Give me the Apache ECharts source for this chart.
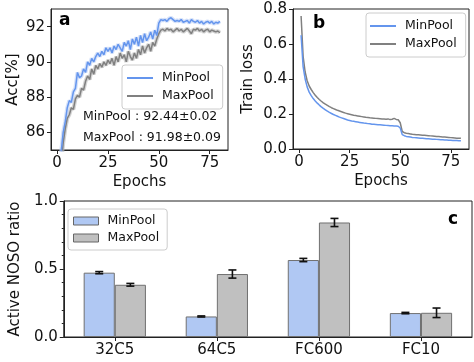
<!DOCTYPE html>
<html>
<head>
<meta charset="utf-8">
<script src="https://cdn.jsdelivr.net/npm/echarts@6/dist/echarts.min.js"></script>
<style>
html,body{margin:0;padding:0;background:#fff;}
#c{width:474px;height:362px;}
</style>
</head>
<body>
<div id="c"></div>
<script>
// ---------- data ----------
const epochs = [1,2,3,4,5,6,7,8,9,10,11,12,13,14,15,16,17,18,19,20,21,22,23,24,25,26,27,28,29,30,31,32,33,34,35,36,37,38,39,40,41,42,43,44,45,46,47,48,49,50,51,52,53,54,55,56,57,58,59,60,61,62,63,64,65,66,67,68,69,70,71,72,73,74,75,76,77,78,79,80];

const accMinPool = [83.0,84.9,86.0,86.6,87.4,87.8,87.7,88.3,88.5,89.4,89.1,89.2,89.6,89.4,90.0,89.8,90.2,90.0,90.3,90.5,
  90.3,90.6,90.4,90.8,90.6,90.8,90.5,90.9,90.7,91.0,90.8,90.6,91.1,90.9,91.2,90.7,91.3,91.0,91.4,90.9,
  91.5,91.1,91.6,91.2,91.4,91.7,91.3,91.8,91.5,92.2,92.4,92.35,92.4,92.3,92.45,92.5,92.4,92.3,92.35,92.3,
  92.4,92.25,92.3,92.35,92.2,92.4,92.3,92.25,92.35,92.2,92.3,92.15,92.25,92.3,92.2,92.3,92.15,92.25,92.2,92.3];

const accMaxPool = [82.5,84.2,85.4,86.2,86.8,87.0,87.4,87.3,87.9,88.1,88.0,88.5,88.4,88.9,89.2,89.0,89.6,89.3,89.8,89.6,
  89.9,89.7,90.0,89.8,90.1,89.9,90.2,89.8,90.3,90.0,90.5,90.2,90.4,90.0,90.6,90.3,90.1,90.5,90.2,90.7,
  90.4,90.9,90.5,90.8,91.0,90.6,91.1,90.9,91.3,91.6,91.8,91.85,91.75,91.9,91.8,91.85,91.7,91.8,91.9,91.75,
  91.85,91.7,91.8,91.9,91.75,91.6,91.85,91.8,91.9,91.75,91.85,91.7,91.8,91.85,91.7,91.8,91.75,91.7,91.75,91.65];

const lossMinPool = [0.65,0.47,0.40,0.355,0.325,0.305,0.288,0.274,0.262,0.251,0.241,0.232,0.224,0.216,0.209,0.203,0.197,0.192,0.187,0.182,
  0.178,0.174,0.170,0.166,0.163,0.160,0.158,0.156,0.154,0.152,0.150,0.148,0.147,0.145,0.144,0.142,0.141,0.140,0.139,0.138,
  0.137,0.136,0.135,0.134,0.133,0.133,0.132,0.131,0.130,0.120,0.082,0.076,0.072,0.070,0.068,0.066,0.065,0.064,0.063,0.062,
  0.061,0.060,0.059,0.058,0.057,0.056,0.056,0.055,0.054,0.053,0.053,0.052,0.051,0.050,0.050,0.049,0.048,0.048,0.047,0.047];

const lossMaxPool = [0.76,0.53,0.44,0.39,0.36,0.34,0.322,0.307,0.294,0.283,0.273,0.264,0.256,0.249,0.242,0.236,0.231,0.226,0.221,0.217,
  0.213,0.209,0.205,0.202,0.199,0.196,0.193,0.191,0.189,0.187,0.185,0.183,0.181,0.180,0.178,0.177,0.176,0.175,0.174,0.173,
  0.172,0.171,0.170,0.172,0.168,0.170,0.175,0.169,0.167,0.150,0.100,0.093,0.090,0.088,0.086,0.084,0.083,0.082,0.081,0.080,
  0.079,0.078,0.077,0.076,0.075,0.074,0.073,0.072,0.071,0.070,0.069,0.068,0.067,0.066,0.065,0.064,0.063,0.062,0.062,0.061];

const layers = ['32C5','64C5','FC600','FC10'];
const nosoMinPool = [0.473,0.151,0.566,0.176];
const nosoMinPoolErr = [0.008,0.004,0.012,0.005];
const nosoMaxPool = [0.384,0.463,0.842,0.178];
const nosoMaxPoolErr = [0.010,0.030,0.030,0.035];

const epochTicks = [0,25,50,75];
const accTicks = [86,88,90,92];

// ---------- chart ----------
const FONT = 'DejaVu Sans';
const BLUE = '#6495ED';
const GRAY = '#808080';
const BAR_BLUE = '#b0c8f3';
const BAR_GRAY = '#c0c0c0';

const pairs = (xs, ys) => xs.map((x, i) => [x, ys[i]]);

const chart = echarts.init(document.getElementById('c'), null, {renderer: 'canvas'});

const tickLabel = {color: '#111', fontFamily: FONT, fontSize: 15};
const axisLine = {show: true, onZero: false, lineStyle: {color: '#222', width: 1}};
const axisTick = {show: true, inside: false, length: 4, lineStyle: {color: '#222', width: 1}};
const nameStyle = {color: '#111', fontFamily: FONT, fontSize: 15};

const BAR_W = 0.305;

function errorRenderer(sign) {
  return function (params, api) {
    const cat = api.value(0), v = api.value(1), e = api.value(2);
    const band = api.size([1, 0])[0];
    const off = sign * band * BAR_W / 2;
    const top = api.coord([cat, v + e]);
    const bot = api.coord([cat, v - e]);
    const x = top[0] + off;
    const cap = 4;
    const st = {stroke: '#111', lineWidth: 1.6};
    return {
      type: 'group',
      children: [
        {type: 'line', shape: {x1: x, y1: top[1], x2: x, y2: bot[1]}, style: st},
        {type: 'line', shape: {x1: x - cap, y1: top[1], x2: x + cap, y2: top[1]}, style: st},
        {type: 'line', shape: {x1: x - cap, y1: bot[1], x2: x + cap, y2: bot[1]}, style: st}
      ]
    };
  };
}

const legendBase = {
  orient: 'vertical',
  backgroundColor: 'rgba(255,255,255,0.85)',
  borderColor: '#cccccc',
  borderWidth: 1,
  borderRadius: 3,
  itemGap: 4,
  textStyle: {color: '#111', fontFamily: FONT, fontSize: 12.5, lineHeight: 14, padding: [0, 0, 0, 4]},
  selectedMode: false
};

const option = {
  animation: false,
  backgroundColor: '#fff',
  grid: [
    {left: 51, top: 9, width: 177, height: 141, show: true, borderColor: '#222', borderWidth: 1, containLabel: false},
    {left: 293, top: 9, width: 176, height: 140, show: true, borderColor: '#222', borderWidth: 1, containLabel: false},
    {left: 58, top: 201, width: 414, height: 136, show: true, borderColor: '#222', borderWidth: 1, containLabel: false}
  ],
  xAxis: [
    {gridIndex: 0, type: 'value', min: -3, max: 84, name: 'Epochs', nameLocation: 'middle', nameGap: 25, nameTextStyle: nameStyle,
     axisLine: axisLine, axisTick: Object.assign({customValues: epochTicks}, axisTick),
     axisLabel: Object.assign({customValues: epochTicks, margin: 6}, tickLabel), splitLine: {show: false}},
    {gridIndex: 1, type: 'value', min: -3, max: 84, name: 'Epochs', nameLocation: 'middle', nameGap: 25, nameTextStyle: nameStyle,
     axisLine: axisLine, axisTick: Object.assign({customValues: epochTicks}, axisTick),
     axisLabel: Object.assign({customValues: epochTicks, margin: 6}, tickLabel), splitLine: {show: false}},
    {gridIndex: 2, type: 'category', data: layers, boundaryGap: true,
     axisLine: axisLine, axisTick: Object.assign({alignWithLabel: true}, axisTick),
     axisLabel: Object.assign({margin: 6}, tickLabel), splitLine: {show: false}}
  ],
  yAxis: [
    {gridIndex: 0, type: 'value', min: 85, max: 93, name: 'Acc[%]', nameLocation: 'middle', nameGap: 30, nameTextStyle: nameStyle,
     axisLine: axisLine, axisTick: Object.assign({customValues: accTicks}, axisTick),
     axisLabel: Object.assign({customValues: accTicks, margin: 6}, tickLabel), splitLine: {show: false}},
    {gridIndex: 1, type: 'value', min: 0, max: 0.8, interval: 0.2, name: 'Train loss', nameLocation: 'middle', nameGap: 37, nameTextStyle: nameStyle,
     axisLine: axisLine, axisTick: axisTick,
     axisLabel: Object.assign({margin: 6, formatter: v => v.toFixed(1)}, tickLabel), splitLine: {show: false}},
    {gridIndex: 2, type: 'value', min: 0, max: 1, interval: 0.5, name: 'Active NOSO ratio', nameLocation: 'middle', nameGap: 37, nameTextStyle: nameStyle,
     axisLine: axisLine, axisTick: axisTick,
     minorTick: {show: true, splitNumber: 5, length: 2, lineStyle: {color: '#222', width: 1}},
     axisLabel: Object.assign({margin: 6, formatter: v => v.toFixed(1)}, tickLabel), splitLine: {show: false}}
  ],
  legend: [
    Object.assign({}, legendBase, {left: 122, top: 65, padding: [6, 9, 6, 5], itemWidth: 26, itemHeight: 2,
      data: [{name: 'MinPool', icon: 'rect', itemStyle: {color: BLUE, borderWidth: 0}},
             {name: 'MaxPool', icon: 'rect', itemStyle: {color: GRAY, borderWidth: 0}}]}),
    Object.assign({}, legendBase, {left: 366, top: 13, padding: [6, 9, 6, 4], itemWidth: 26, itemHeight: 2,
      data: [{name: 'MinPool', icon: 'rect', itemStyle: {color: BLUE, borderWidth: 0}},
             {name: 'MaxPool', icon: 'rect', itemStyle: {color: GRAY, borderWidth: 0}}]}),
    Object.assign({}, legendBase, {left: 68, top: 209, padding: [5, 8, 5, 5], itemWidth: 25, itemHeight: 8, itemGap: 3,
      data: [{name: 'MinPool', icon: 'rect', itemStyle: {color: BAR_BLUE, borderColor: '#666', borderWidth: 1}},
             {name: 'MaxPool', icon: 'rect', itemStyle: {color: BAR_GRAY, borderColor: '#666', borderWidth: 1}}]})
  ],
  graphic: [
    {type: 'text', left: 59, top: 12, style: {text: 'a', fontFamily: FONT, fontWeight: 'bold', fontSize: 17, fill: '#000'}},
    {type: 'text', left: 313, top: 15, style: {text: 'b', fontFamily: FONT, fontWeight: 'bold', fontSize: 17, fill: '#000'}},
    {type: 'text', left: 448, top: 211, style: {text: 'c', fontFamily: FONT, fontWeight: 'bold', fontSize: 17, fill: '#000'}},
    {type: 'text', left: 83, top: 110, style: {text: 'MinPool : 92.44\u00b10.02', fontFamily: FONT, fontSize: 12.5, fill: '#111'}},
    {type: 'text', left: 83, top: 131, style: {text: 'MaxPool : 91.98\u00b10.09', fontFamily: FONT, fontSize: 12.5, fill: '#111'}}
  ],
  series: [
    // panel a: soft band under the lines
    {name: 'MaxPool band', type: 'line', xAxisIndex: 0, yAxisIndex: 0, data: pairs(epochs, accMaxPool), showSymbol: false, symbol: 'none',
     lineStyle: {color: '#b8b8b8', width: 4, opacity: 0.6}, z: 1, silent: true},
    {name: 'MinPool band', type: 'line', xAxisIndex: 0, yAxisIndex: 0, data: pairs(epochs, accMinPool), showSymbol: false, symbol: 'none',
     lineStyle: {color: '#b9cdf5', width: 4, opacity: 0.6}, z: 1, silent: true},
    {name: 'MaxPool', type: 'line', xAxisIndex: 0, yAxisIndex: 0, data: pairs(epochs, accMaxPool), showSymbol: false, symbol: 'none',
     lineStyle: {color: GRAY, width: 1.5}, itemStyle: {color: GRAY}, z: 2},
    {name: 'MinPool', type: 'line', xAxisIndex: 0, yAxisIndex: 0, data: pairs(epochs, accMinPool), showSymbol: false, symbol: 'none',
     lineStyle: {color: BLUE, width: 1.5}, itemStyle: {color: BLUE}, z: 3},
    // panel b
    {name: 'MaxPool', type: 'line', xAxisIndex: 1, yAxisIndex: 1, data: pairs(epochs, lossMaxPool), showSymbol: false, symbol: 'none',
     lineStyle: {color: GRAY, width: 1.5}, itemStyle: {color: GRAY}, z: 2},
    {name: 'MinPool', type: 'line', xAxisIndex: 1, yAxisIndex: 1, data: pairs(epochs, lossMinPool), showSymbol: false, symbol: 'none',
     lineStyle: {color: BLUE, width: 1.5}, itemStyle: {color: BLUE}, z: 3},
    // panel c
    {name: 'MinPool', type: 'bar', xAxisIndex: 2, yAxisIndex: 2, data: nosoMinPool, barWidth: (BAR_W * 100) + '%', barGap: '0%',
     itemStyle: {color: BAR_BLUE, borderColor: '#707070', borderWidth: 1}},
    {name: 'MaxPool', type: 'bar', xAxisIndex: 2, yAxisIndex: 2, data: nosoMaxPool, barWidth: (BAR_W * 100) + '%', barGap: '0%',
     itemStyle: {color: BAR_GRAY, borderColor: '#707070', borderWidth: 1}},
    {name: 'MinPool err', type: 'custom', xAxisIndex: 2, yAxisIndex: 2, renderItem: errorRenderer(-1),
     data: layers.map((c, i) => [i, nosoMinPool[i], nosoMinPoolErr[i]]), z: 5, silent: true},
    {name: 'MaxPool err', type: 'custom', xAxisIndex: 2, yAxisIndex: 2, renderItem: errorRenderer(1),
     data: layers.map((c, i) => [i, nosoMaxPool[i], nosoMaxPoolErr[i]]), z: 5, silent: true}
  ]
};

chart.setOption(option);
</script>
</body>
</html>
